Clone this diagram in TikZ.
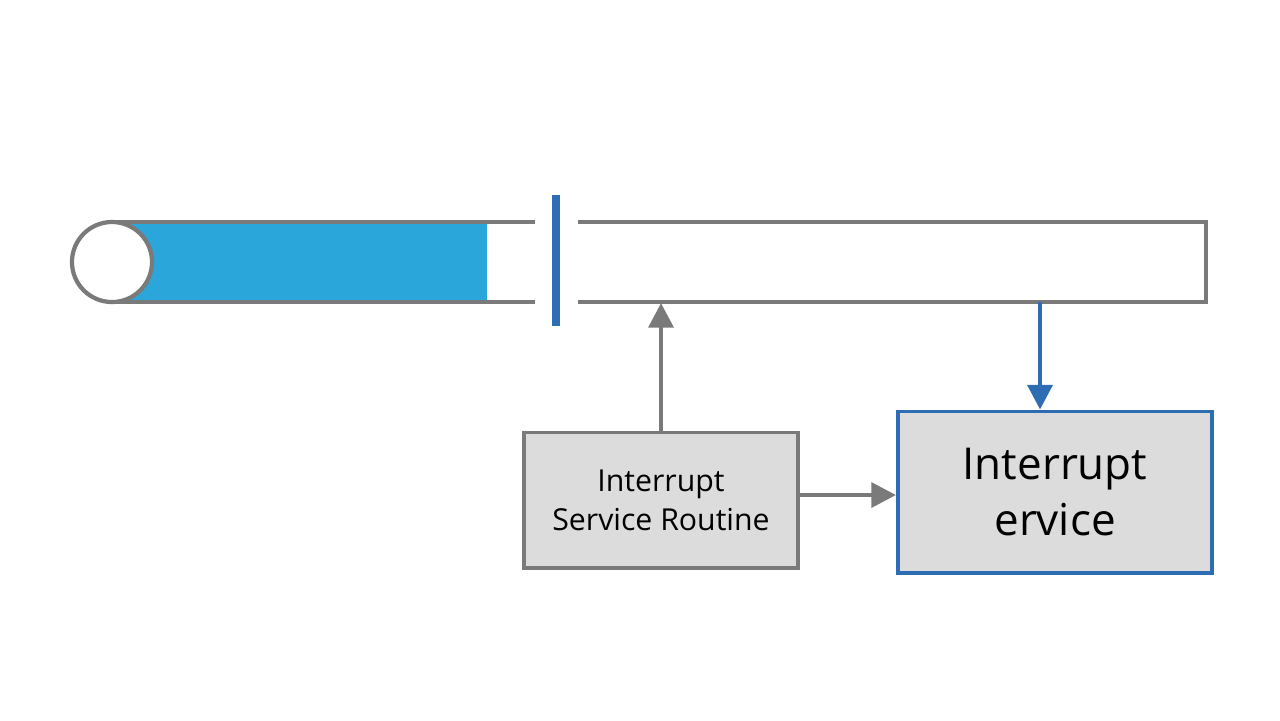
\documentclass[tikz,border=0pt]{standalone}
\usepackage{fontspec}
\setmainfont{Open Sans}
\usetikzlibrary{arrows.meta}
\definecolor{tubeblue}{HTML}{2BA6DA}
\definecolor{lineblue}{HTML}{2E6DB4}
\definecolor{linegray}{HTML}{7A7A7A}
\definecolor{boxgray}{HTML}{DCDCDC}
\begin{document}
\begin{tikzpicture}[x=0.01cm,y=-0.01cm,
        tube/.style={draw=linegray, line width=1.2pt},
        isr/.style={rectangle, draw=linegray, fill=boxgray, line width=1.1pt, minimum width=2.74cm, minimum height=1.35cm, align=center, font=\fontsize{8.6}{11}\selectfont},
        service/.style={rectangle, draw=lineblue, fill=boxgray, line width=1.1pt, minimum width=3.14cm, minimum height=1.61cm, align=center, font=\fontsize{12.5}{16}\selectfont},
        arr/.style={-{Triangle[length=7pt,width=7pt]}, line width=1.3pt}
    ]
        \useasboundingbox (0,0) rectangle (1280,720);

        % Linkes Rohr
        \fill[tubeblue] (112,222) rectangle (487,302);
        \draw[tube] (112,222) -- (535,222);
        \draw[tube] (112,302) -- (535,302);
        \node[circle, draw=linegray, fill=white, line width=1.2pt, minimum size=0.8cm, inner sep=0pt] (head) at (112,262) {};

        % Trennstrich
        \draw[lineblue, line width=2.5pt] (556,195) -- (556,326);

        % Rechtes Rohr
        \draw[tube] (578,222) -- (1206,222) -- (1206,302) -- (578,302);
        \coordinate (entry) at (661,303);
        \coordinate (exit) at (1040,302);

        % Boxen
        \node[isr] (isr) at (661,500) {Interrupt\\Service Routine};
        \node[service] (service) at (1055,492) {Interrupt\\ervice};

        % Pfeile
        \draw[arr, linegray] (isr.north -| entry) -- (entry);
        \draw[arr, lineblue] (exit) -- (exit |- service.north);
        \draw[arr, linegray] (isr.east |- 0,495) -- (service.west |- 0,495);
    \end{tikzpicture}
\end{document}
